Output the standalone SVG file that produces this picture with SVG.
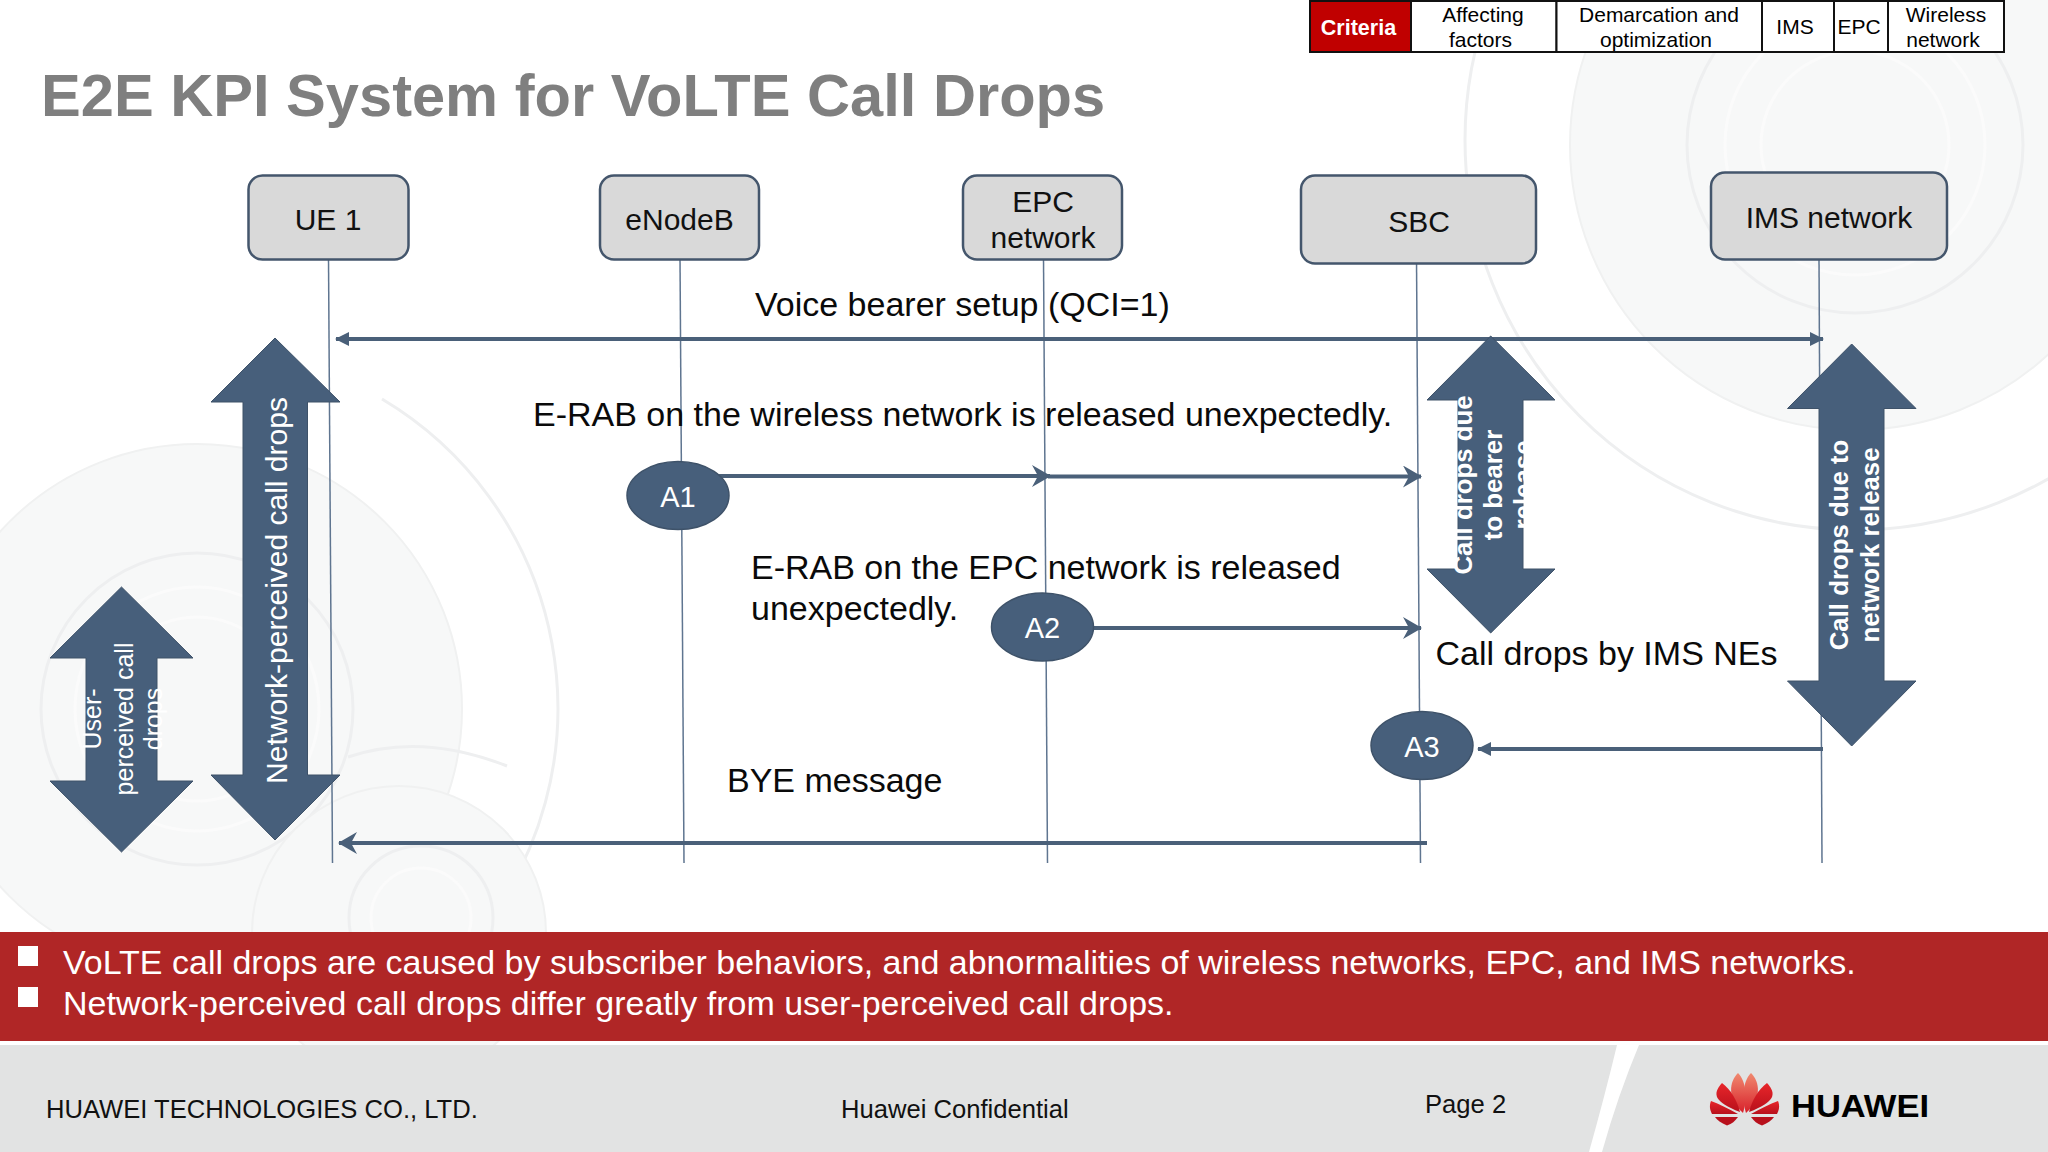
<svg xmlns="http://www.w3.org/2000/svg" width="2048" height="1152" viewBox="0 0 2048 1152">
<style>
text{font-family:"Liberation Sans",Arial,sans-serif;fill:#000}
.disk{fill:#f7f8f8;stroke:#f0f1f1;stroke-width:2}
.ring{fill:none;stroke:#eeeff0;stroke-width:3}
.wring{fill:none;stroke:#fbfbfb;stroke-width:3}
.node{fill:#d9d9d9;stroke:#44566c;stroke-width:2.5}
.nt{font-size:30px;text-anchor:middle;fill:#111}
.life{stroke:#5f7590;stroke-width:1.5;fill:none}
.msg{stroke:#4a6079;stroke-width:4;fill:none}
.big{fill:#475f7b;stroke:#3e5269;stroke-width:1}
.oval{fill:#475f7b;stroke:#3e5269;stroke-width:1.5}
.ot{font-size:29px;fill:#fff;text-anchor:middle}
.lab{font-size:34px;fill:#0a0a0a}
.w25{font-size:25px;fill:#fff;text-anchor:middle}
.b25{font-size:25.800px;font-weight:bold;fill:#fff;text-anchor:middle}
.cell{fill:#fff;stroke:#111;stroke-width:2}
.ct{font-size:21px;text-anchor:middle}
.ft{font-size:25.600px;fill:#111}
.bt{font-size:34px;fill:#fff}
</style>
<defs>
<marker id="tri" markerUnits="userSpaceOnUse" markerWidth="16" markerHeight="14" refX="13" refY="7" orient="auto-start-reverse"><path d="M0 0L14 7L0 14Z" fill="#4a6079"/></marker>
<marker id="barb" markerUnits="userSpaceOnUse" markerWidth="22" markerHeight="24" refX="18" refY="11" orient="auto-start-reverse"><path d="M0 0L19 11L0 22L6 11Z" fill="#4a6079"/></marker>
<linearGradient id="p1" x1="0" y1="0" x2="0" y2="1"><stop offset="0" stop-color="#f08a70"/><stop offset="1" stop-color="#d8202a"/></linearGradient>
<linearGradient id="p2" x1="0" y1="0" x2="0" y2="1"><stop offset="0" stop-color="#e8262a"/><stop offset="1" stop-color="#b8101c"/></linearGradient>
<g id="petals">
<path d="M1746 1113C1742 1100 1742 1082 1751 1073C1760 1082 1762 1098 1746 1113Z" fill="url(#p1)"/>
<path d="M1749 1112C1752 1100 1758 1090 1767 1083C1777 1094 1775 1102 1749 1112Z" fill="url(#p2)"/>
<path d="M1751 1114C1760 1109 1770 1104 1778 1101C1780 1106 1779 1110 1777 1114Z" fill="url(#p2)"/>
<path d="M1751 1117L1774 1117C1772 1120 1768 1123 1762 1125.500C1757 1124 1754 1121 1751 1117Z" fill="#b8101c"/>
</g>
</defs>
<rect width="2048" height="1152" fill="#fff"/>
<g id="background">
<circle class="ring" cx="1855" cy="140" r="390"/>
<circle class="disk" cx="1855" cy="145" r="285"/>
<circle class="ring" cx="1855" cy="145" r="168"/>
<circle class="wring" cx="1855" cy="145" r="130"/>
<circle class="wring" cx="1855" cy="145" r="94"/>
<path class="ring" d="M382 399A360 360 0 0 1 480 932"/>
<circle class="disk" cx="197" cy="709" r="265"/>
<circle class="ring" cx="197" cy="709" r="156" stroke-width="4"/>
<circle class="wring" cx="197" cy="709" r="122"/>
<circle class="wring" cx="197" cy="709" r="92"/>
<path class="ring" d="M348 757Q421 732 507 766"/>
<circle class="disk" cx="399" cy="933" r="147"/>
<circle class="ring" cx="421" cy="918" r="72" stroke-width="4"/>
<circle class="wring" cx="421" cy="918" r="50"/>
</g>
<g id="lifelines">
<path class="life" d="M328.500 258L332.500 863"/>
<path class="life" d="M680 258L684 863"/>
<path class="life" d="M1043.500 258L1047.500 863"/>
<path class="life" d="M1416.500 258L1420.500 863"/>
<path class="life" d="M1819 258L1822 863"/>
</g>
<g id="connectors">
<path class="msg" d="M336 339H1823" marker-start="url(#tri)" marker-end="url(#tri)"/>
<path class="msg" d="M716 476H1050" marker-end="url(#barb)"/>
<path class="msg" d="M1048 476.500H1421" marker-end="url(#barb)"/>
<path class="msg" d="M1092 628H1421" marker-end="url(#barb)"/>
<path class="msg" d="M1823 749H1478" marker-end="url(#tri)"/>
<path class="msg" d="M1427 843H339" marker-end="url(#barb)"/>
</g>
<g id="node-ue1"><rect class="node" x="248.500" y="175.500" width="160" height="84" rx="14"/><text class="nt" x="328" y="230">UE 1</text></g>
<g id="node-enodeb"><rect class="node" x="600" y="175.500" width="159" height="84" rx="14"/><text class="nt" x="679.500" y="230">eNodeB</text></g>
<g id="node-epc"><rect class="node" x="963" y="175.500" width="159" height="84" rx="14"/><text class="nt" x="1043" y="212">EPC</text><text class="nt" x="1043" y="248">network</text></g>
<g id="node-sbc"><rect class="node" x="1301" y="175.500" width="235" height="88" rx="14"/><text class="nt" x="1419" y="232">SBC</text></g>
<g id="node-ims"><rect class="node" x="1711" y="172.500" width="236" height="87" rx="14"/><text class="nt" x="1829" y="228">IMS network</text></g>
<g id="arrow-network"><path class="big" d="M275 338L340 402H307.500V775H340L275 840L211 775H243V402H211Z"/><text class="w25" style="font-size:30px" transform="translate(287 590.500) rotate(-90)">Network-perceived call drops</text></g>
<g id="arrow-user"><path class="big" d="M121.500 587L193 658H157V781H193L121.500 852L50 781H86V658H50Z"/><g transform="translate(0 719) rotate(-90)"><text class="w25" x="0" y="101">User-</text><text class="w25" x="0" y="133">perceived call</text><text class="w25" x="0" y="162">drops</text></g></g>
<g id="arrow-bearer"><path class="big" d="M1490.700 336L1555 400H1523V569H1555L1490.700 633L1427 569H1458V400H1427Z"/><g transform="translate(0 485) rotate(-90)"><text class="b25" x="0" y="1472">Call drops due</text><text class="b25" x="0" y="1502">to bearer</text><text class="b25" x="0" y="1532">release</text></g></g>
<g id="arrow-release"><path class="big" d="M1851.700 344L1916 408.500H1884V681H1916L1851.700 746L1787.500 681H1819V408.500H1787.500Z"/><g transform="translate(0 545) rotate(-90)"><text class="b25" x="0" y="1848">Call drops due to</text><text class="b25" x="0" y="1879">network release</text></g></g>
<g id="node-a1"><ellipse class="oval" cx="678" cy="495.500" rx="51" ry="34"/><text class="ot" x="678" y="507">A1</text></g>
<g id="node-a2"><ellipse class="oval" cx="1042.500" cy="627" rx="51" ry="34"/><text class="ot" x="1042.500" y="638">A2</text></g>
<g id="node-a3"><ellipse class="oval" cx="1422" cy="745.500" rx="51" ry="34"/><text class="ot" x="1422" y="757">A3</text></g>
<g id="labels">
<text class="lab" x="755" y="316">Voice bearer setup (QCI=1)</text>
<text class="lab" x="533" y="426">E-RAB on the wireless network is released unexpectedly.</text>
<text class="lab" x="751" y="579">E-RAB on the EPC network is released</text>
<text class="lab" x="751" y="620">unexpectedly.</text>
<text class="lab" x="1435.500" y="665">Call drops by IMS NEs</text>
<text class="lab" x="727" y="792">BYE message</text>
</g>
<text x="41" y="116" font-size="59.600" font-weight="bold" style="fill:#7f7f7f">E2E KPI System for VoLTE Call Drops</text>
<g id="criteria-table">
<rect x="1310" y="1" width="101" height="51" fill="#c00000" stroke="#111" stroke-width="2"/>
<rect class="cell" x="1411" y="1" width="145.500" height="51"/>
<rect class="cell" x="1556.500" y="1" width="205.500" height="51"/>
<rect class="cell" x="1762" y="1" width="72" height="51"/>
<rect class="cell" x="1834" y="1" width="54" height="51"/>
<rect class="cell" x="1888" y="1" width="116" height="51"/>
<text x="1358.500" y="34.500" font-weight="bold" text-anchor="middle" style="fill:#fff;font-size:21.500px">Criteria</text>
<text class="ct" x="1483" y="22">Affecting</text><text class="ct" x="1480.500" y="46.500">factors</text>
<text class="ct" x="1659" y="22">Demarcation and</text><text class="ct" x="1656" y="46.500">optimization</text>
<text class="ct" x="1795" y="34">IMS</text><text class="ct" x="1859" y="34">EPC</text>
<text class="ct" x="1946" y="22">Wireless</text><text class="ct" x="1943" y="46.500">network</text>
</g>
<g id="summary-bar">
<rect y="932" width="2048" height="109" fill="#b02626"/>
<rect x="18" y="946" width="20" height="20" fill="#fff"/>
<rect x="18" y="987" width="20" height="20" fill="#fff"/>
<text class="bt" x="63" y="974">VoLTE call drops are caused by subscriber behaviors, and abnormalities of wireless networks, EPC, and IMS networks.</text>
<text class="bt" x="63" y="1015">Network-perceived call drops differ greatly from user-perceived call drops.</text>
</g>
<g id="footer">
<rect y="1045" width="2048" height="107" fill="#e2e3e3"/>
<path d="M1617 1045H1639Q1618 1095 1602 1152H1589Q1605 1095 1617 1045Z" fill="#fff"/>
<text class="ft" x="46" y="1118">HUAWEI TECHNOLOGIES CO., LTD.</text>
<text class="ft" x="841" y="1118">Huawei Confidential</text>
<text class="ft" x="1425" y="1113">Page 2</text>
<use href="#petals"/>
<use href="#petals" transform="translate(3489 0) scale(-1 1)"/>
<text x="1791" y="1117" font-size="31" font-weight="bold" textLength="138" lengthAdjust="spacingAndGlyphs">HUAWEI</text>
</g>
</svg>
